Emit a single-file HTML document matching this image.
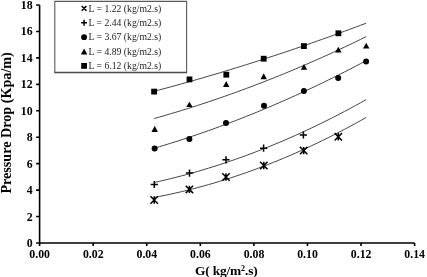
<!DOCTYPE html>
<html><head><meta charset="utf-8"><style>
html,body{margin:0;padding:0;background:#fff;}
svg{display:block;}
.ax text{font-family:"Liberation Serif",serif;font-weight:bold;font-size:11.8px;fill:#000;}
.lg text{font-family:"Liberation Serif",serif;font-size:9.7px;fill:#222;}
.st{stroke:#000;stroke-width:1.5;fill:none;}
</style></head><body>
<svg width="427" height="277" viewBox="0 0 427 277">
<rect width="427" height="277" fill="#fff"/>
<g fill="none" stroke="#3c3c3c" stroke-width="0.95">
<path d="M154.20,91.29 L159.64,89.84 L165.07,88.38 L170.51,86.91 L175.94,85.41 L181.38,83.91 L186.82,82.38 L192.25,80.84 L197.69,79.29 L203.12,77.72 L208.56,76.13 L213.99,74.53 L219.43,72.91 L224.87,71.27 L230.30,69.62 L235.74,67.95 L241.17,66.27 L246.61,64.57 L252.05,62.86 L257.48,61.13 L262.92,59.38 L268.35,57.62 L273.79,55.84 L279.23,54.05 L284.66,52.24 L290.10,50.41 L295.53,48.57 L300.97,46.71 L306.41,44.84 L311.84,42.95 L317.28,41.04 L322.71,39.12 L328.15,37.18 L333.58,35.23 L339.02,33.26 L344.46,31.27 L349.89,29.27 L355.33,27.26 L360.76,25.22 L366.20,23.17"/><path d="M154.20,118.54 L159.64,117.00 L165.07,115.43 L170.51,113.83 L175.94,112.21 L181.38,110.55 L186.82,108.87 L192.25,107.15 L197.69,105.41 L203.12,103.63 L208.56,101.83 L213.99,99.99 L219.43,98.13 L224.87,96.24 L230.30,94.31 L235.74,92.36 L241.17,90.38 L246.61,88.37 L252.05,86.33 L257.48,84.26 L262.92,82.16 L268.35,80.03 L273.79,77.87 L279.23,75.68 L284.66,73.47 L290.10,71.22 L295.53,68.94 L300.97,66.63 L306.41,64.30 L311.84,61.93 L317.28,59.54 L322.71,57.11 L328.15,54.66 L333.58,52.17 L339.02,49.66 L344.46,47.12 L349.89,44.54 L355.33,41.94 L360.76,39.31 L366.20,36.65"/><path d="M154.20,148.26 L159.64,146.64 L165.07,144.99 L170.51,143.31 L175.94,141.60 L181.38,139.85 L186.82,138.07 L192.25,136.25 L197.69,134.40 L203.12,132.52 L208.56,130.61 L213.99,128.66 L219.43,126.68 L224.87,124.66 L230.30,122.62 L235.74,120.54 L241.17,118.42 L246.61,116.28 L252.05,114.10 L257.48,111.88 L262.92,109.64 L268.35,107.36 L273.79,105.05 L279.23,102.70 L284.66,100.32 L290.10,97.91 L295.53,95.47 L300.97,92.99 L306.41,90.48 L311.84,87.93 L317.28,85.36 L322.71,82.75 L328.15,80.10 L333.58,77.43 L339.02,74.72 L344.46,71.97 L349.89,69.20 L355.33,66.39 L360.76,63.54 L366.20,60.67"/><path d="M154.20,182.45 L159.64,181.24 L165.07,179.98 L170.51,178.67 L175.94,177.31 L181.38,175.91 L186.82,174.46 L192.25,172.96 L197.69,171.41 L203.12,169.82 L208.56,168.17 L213.99,166.48 L219.43,164.74 L224.87,162.95 L230.30,161.12 L235.74,159.23 L241.17,157.30 L246.61,155.32 L252.05,153.29 L257.48,151.22 L262.92,149.09 L268.35,146.92 L273.79,144.70 L279.23,142.43 L284.66,140.12 L290.10,137.75 L295.53,135.34 L300.97,132.88 L306.41,130.37 L311.84,127.82 L317.28,125.21 L322.71,122.56 L328.15,119.86 L333.58,117.11 L339.02,114.32 L344.46,111.47 L349.89,108.58 L355.33,105.64 L360.76,102.65 L366.20,99.61"/><path d="M154.20,197.47 L159.64,196.42 L165.07,195.32 L170.51,194.17 L175.94,192.96 L181.38,191.70 L186.82,190.39 L192.25,189.02 L197.69,187.61 L203.12,186.14 L208.56,184.61 L213.99,183.04 L219.43,181.41 L224.87,179.73 L230.30,177.99 L235.74,176.21 L241.17,174.37 L246.61,172.47 L252.05,170.53 L257.48,168.53 L262.92,166.48 L268.35,164.37 L273.79,162.22 L279.23,160.01 L284.66,157.74 L290.10,155.43 L295.53,153.06 L300.97,150.64 L306.41,148.17 L311.84,145.64 L317.28,143.06 L322.71,140.43 L328.15,137.74 L333.58,135.00 L339.02,132.21 L344.46,129.37 L349.89,126.47 L355.33,123.52 L360.76,120.52 L366.20,117.47"/>
</g>
<g fill="#000">
<rect x="151.20" y="88.70" width="5.8" height="5.8"/><rect x="186.60" y="76.50" width="5.8" height="5.8"/><rect x="223.40" y="71.80" width="5.8" height="5.8"/><rect x="260.80" y="55.80" width="5.8" height="5.8"/><rect x="301.00" y="43.20" width="5.8" height="5.8"/><rect x="335.50" y="30.40" width="5.8" height="5.8"/><path d="M154.70,125.80 L157.90,132.00 L151.50,132.00Z"/><path d="M189.40,101.70 L192.60,107.00 L186.20,107.00Z"/><path d="M226.20,80.90 L229.40,87.10 L223.00,87.10Z"/><path d="M263.70,73.30 L266.90,79.30 L260.50,79.30Z"/><path d="M304.00,63.90 L307.20,69.70 L300.80,69.70Z"/><path d="M338.30,46.70 L341.50,52.50 L335.10,52.50Z"/><path d="M366.20,42.70 L369.40,48.50 L363.00,48.50Z"/><circle cx="154.60" cy="148.40" r="3.0"/><circle cx="189.40" cy="139.10" r="3.0"/><circle cx="226.00" cy="123.00" r="3.0"/><circle cx="264.00" cy="105.70" r="3.0"/><circle cx="303.90" cy="91.00" r="3.0"/><circle cx="338.20" cy="77.90" r="3.0"/><circle cx="366.10" cy="61.40" r="3.0"/><path class="st" d="M150.70,184.50H157.90M154.30,180.90V188.10"/><path class="st" d="M185.90,173.10H193.10M189.50,169.50V176.70"/><path class="st" d="M222.40,159.80H229.60M226.00,156.20V163.40"/><path class="st" d="M260.00,148.20H267.20M263.60,144.60V151.80"/><path class="st" d="M299.80,135.00H307.00M303.40,131.40V138.60"/><path class="st" d="M150.50,196.30L157.90,203.70M157.90,196.30L150.50,203.70M154.20,196.30V203.70"/><path class="st" d="M185.70,185.70L193.10,193.10M193.10,185.70L185.70,193.10M189.40,185.70V193.10"/><path class="st" d="M222.30,173.30L229.70,180.70M229.70,173.30L222.30,180.70M226.00,173.30V180.70"/><path class="st" d="M260.10,161.80L267.50,169.20M267.50,161.80L260.10,169.20M263.80,161.80V169.20"/><path class="st" d="M300.00,146.90L307.40,154.30M307.40,146.90L300.00,154.30M303.70,146.90V154.30"/><path class="st" d="M334.60,133.10L342.00,140.50M342.00,133.10L334.60,140.50M338.30,133.10V140.50"/>
</g>
<path d="M54.8,72.5V1.4H186.6V72.5" fill="none" stroke="#5a5a5a" stroke-width="1.1"/><path d="M54.3,72.6H187.1" fill="none" stroke="#4a4a4a" stroke-width="1.5"/>
<g class="lg" fill="#000"><path class="st" d="M81.70,6.00L86.50,10.80M86.50,6.00L81.70,10.80M84.10,7.10V9.70"/><text x="88.6" y="11.55">L = 1.22 (kg/m2.s)</text><path class="st" d="M81.20,22.77H87.00M84.10,19.87V25.67"/><text x="88.6" y="25.92">L = 2.44 (kg/m2.s)</text><circle cx="84.10" cy="37.14" r="2.95"/><text x="88.6" y="40.29">L = 3.67 (kg/m2.s)</text><path d="M84.10,48.51 L87.30,54.51 L80.90,54.51Z"/><text x="88.6" y="54.66">L = 4.89 (kg/m2.s)</text><rect x="81.20" y="62.98" width="5.8" height="5.8"/><text x="88.6" y="69.03">L = 6.12 (kg/m2.s)</text></g>
<g class="ax">
<path d="M39.6,5.0V243.0H414.6M36.10,243.00H39.60M36.10,216.56H39.60M36.10,190.11H39.60M36.10,163.67H39.60M36.10,137.22H39.60M36.10,110.78H39.60M36.10,84.33H39.60M36.10,57.89H39.60M36.10,31.44H39.60M36.10,5.00H39.60M39.60,243.00V246.00M93.17,243.00V246.00M146.74,243.00V246.00M200.31,243.00V246.00M253.89,243.00V246.00M307.46,243.00V246.00M361.03,243.00V246.00M414.60,243.00V246.00" stroke="#000" stroke-width="1.6" fill="none"/>
<text x="32.6" y="247.00" text-anchor="end">0</text><text x="32.6" y="220.56" text-anchor="end">2</text><text x="32.6" y="194.11" text-anchor="end">4</text><text x="32.6" y="167.67" text-anchor="end">6</text><text x="32.6" y="141.22" text-anchor="end">8</text><text x="32.6" y="114.78" text-anchor="end">10</text><text x="32.6" y="88.33" text-anchor="end">12</text><text x="32.6" y="61.89" text-anchor="end">14</text><text x="32.6" y="35.44" text-anchor="end">16</text><text x="32.6" y="9.00" text-anchor="end">18</text>
<text x="39.70" y="257.5" text-anchor="middle">0.00</text><text x="93.27" y="257.5" text-anchor="middle">0.02</text><text x="146.84" y="257.5" text-anchor="middle">0.04</text><text x="200.41" y="257.5" text-anchor="middle">0.06</text><text x="253.99" y="257.5" text-anchor="middle">0.08</text><text x="307.56" y="257.5" text-anchor="middle">0.10</text><text x="361.13" y="257.5" text-anchor="middle">0.12</text><text x="414.70" y="257.5" text-anchor="middle">0.14</text>
<text x="226.2" y="274.6" text-anchor="middle" style="font-size:13.4px;letter-spacing:-0.15px">G( kg/m².s)</text>
<text transform="translate(11.3,122.9) rotate(-90)" text-anchor="middle" style="font-size:14.15px">Pressure Drop (Kpa/m)</text>
</g>
</svg>
</body></html>
